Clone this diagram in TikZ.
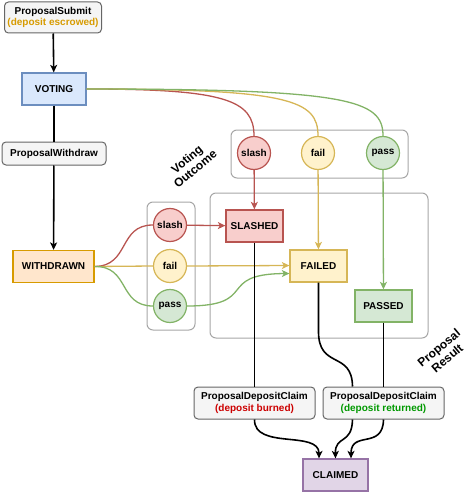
\documentclass[tikz,border=0pt]{standalone}
\usepackage{fontspec}
\setmainfont{Liberation Sans}
\usetikzlibrary{arrows.meta,calc}
\definecolor{gfill}{HTML}{F5F5F5}
\definecolor{gline}{HTML}{666666}
\definecolor{grp}{HTML}{A6A6A6}
\definecolor{bfill}{HTML}{DAE8FC}
\definecolor{bline}{HTML}{6C8EBF}
\definecolor{ofill}{HTML}{FFE6CC}
\definecolor{oline}{HTML}{D79B00}
\definecolor{rfill}{HTML}{F8CECC}
\definecolor{rline}{HTML}{B85450}
\definecolor{yfill}{HTML}{FFF2CC}
\definecolor{yline}{HTML}{D6B656}
\definecolor{grfill}{HTML}{D5E8D4}
\definecolor{grline}{HTML}{82B366}
\definecolor{pfill}{HTML}{E1D5E7}
\definecolor{pline}{HTML}{9673A6}
\definecolor{txtorange}{HTML}{D79B00}
\definecolor{txtred}{HTML}{CC0000}
\definecolor{txtgreen}{HTML}{009900}
\begin{document}
\begin{tikzpicture}[x=1pt,y=-1pt,
  font=\fontsize{10}{11.5}\selectfont\bfseries,
  label box/.style={draw=gline,fill=gfill,rounded corners=4pt,line width=1pt,align=center,inner sep=2pt},
  state box/.style={rectangle,line width=1.3pt,minimum width=#1,minimum height=32pt,inner sep=1pt},
  outcome/.style={circle,line width=1.2pt,minimum size=33pt,inner sep=0pt},
  group box/.style={draw=grp,rounded corners=6pt,line width=1pt},
  tip/.style={-{Stealth[length=7.5pt,width=7pt,inset=2pt]}},
  cedge/.style={line width=1.3pt},
  bedge/.style={line width=1.6pt,black},
  side text/.style={font=\fontsize{12}{13}\selectfont\bfseries,align=center}
]
\useasboundingbox (0,0) rectangle (474,492);

% groups
\draw[group box] (231,130) rectangle (408,178);
\draw[group box] (147,202) rectangle (195,330);
\draw[group box] (210,193) rectangle (428,338);

\node[side text,rotate=40] (vo) at (191,164) {Voting\\Outcome};
\node[side text,rotate=40] (pr) at (443,353) {Proposal\\Result};

% states
\node[label box,minimum width=97pt,minimum height=31pt] (submit) at (53,17.5) {ProposalSubmit\\\textcolor{txtorange}{(deposit escrowed)}};
\node[state box=64pt,draw=bline,fill=bfill] (voting) at (54,89) {VOTING};
\node[label box,minimum width=104pt,minimum height=23pt] (withdraw) at (54,153.5) {ProposalWithdraw};
\node[state box=81pt,draw=oline,fill=ofill] (withdrawn) at (53.5,266.5) {WITHDRAWN};

\node[outcome,draw=rline,fill=rfill] (vslash) at (254,153) {slash};
\node[outcome,draw=yline,fill=yfill] (vfail) at (318,153) {fail};
\node[outcome,draw=grline,fill=grfill] (vpass) at (383,153) {pass};

\node[outcome,draw=rline,fill=rfill] (wslash) at (170,225) {slash};
\node[outcome,draw=yline,fill=yfill] (wfail) at (170,266) {fail};
\node[outcome,draw=grline,fill=grfill] (wpass) at (170,306) {pass};

\node[state box=57pt,draw=rline,fill=rfill] (slashed) at (254.5,226) {SLASHED};
\node[state box=57pt,draw=yline,fill=yfill] (failed) at (318.5,266) {FAILED};
\node[state box=57pt,draw=grline,fill=grfill] (passed) at (383.5,306) {PASSED};

\node[label box,minimum width=121pt,minimum height=32pt] (burn) at (254.5,403) {ProposalDepositClaim\\\textcolor{txtred}{(deposit burned)}};
\node[label box,minimum width=121pt,minimum height=32pt] (ret) at (383.5,403) {ProposalDepositClaim\\\textcolor{txtgreen}{(deposit returned)}};
\node[state box=65pt,draw=pline,fill=pfill,minimum height=32pt] (claimed) at (335.5,475) {CLAIMED};

\coordinate (retL) at ($(ret.north)+(-31,0)$);
\coordinate (retLb) at ($(ret.south)+(-31,0)$);
\coordinate (clA) at ($(claimed.north)+(-16.5,0)$);
\coordinate (clC) at ($(claimed.north)+(15.5,0)$);
\coordinate (fA) at ($(failed.west)+(0,-0.5)$);
\coordinate (fB) at ($(failed.west)+(0,7.5)$);

% black flow
\draw[bedge,tip] (submit) -- (voting);
\draw[bedge] (voting) -- (withdraw);
\draw[bedge,tip] (withdraw) -- (withdrawn);

% voting outcomes
\draw[cedge,rline] (voting.east) .. controls (225,89) and (254,100) .. (vslash.north);
\draw[cedge,yline] (voting.east) .. controls (290,89) and (318,100) .. (vfail.north);
\draw[cedge,grline] (voting.east) .. controls (350,89) and (383,100) .. (vpass.north);
\draw[cedge,rline,tip] (vslash) -- (slashed);
\draw[cedge,yline,tip] (vfail) -- (failed);
\draw[cedge,grline,tip] (vpass) -- (passed);

% withdrawn outcomes
\draw[cedge,rline] (withdrawn.east) .. controls (130,266) and (118,225) .. (wslash.west);
\draw[cedge,yline] (withdrawn.east) -- (wfail.west);
\draw[cedge,grline] (withdrawn.east) .. controls (130,266) and (118,306) .. (wpass.west);
\draw[cedge,rline,tip] (wslash) -- (slashed);
\draw[cedge,yline,tip] (wfail.east) -- (fA);
\draw[cedge,grline,tip] (wpass.east) .. controls (260,306) and (215,274) .. (fB);

% claims
\draw[bedge] (slashed) -- (burn);
\draw[bedge] (passed) -- (ret);
\draw[bedge] (failed.south) -- ++(0,48) .. controls (318,370) and (352,350) .. (retL);
\draw[bedge,tip] (burn.south) .. controls (254,450) and (319,430) .. (clA);
\draw[bedge,tip] (retLb) .. controls (352,445) and (335,435) .. (claimed.north);
\draw[bedge,tip] (ret.south) .. controls (383,450) and (351,430) .. (clC);
\end{tikzpicture}
\end{document}
